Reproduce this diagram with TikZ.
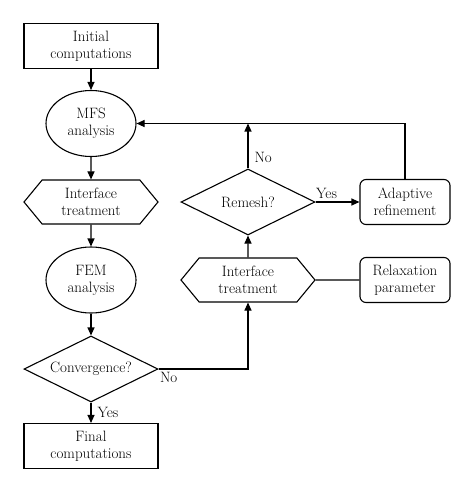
\documentclass[tikz,border=0pt]{standalone}
\usetikzlibrary{arrows.meta, shapes.geometric, shapes.symbols}
\tikzset{
  plainbox/.style={draw, minimum width=134pt, minimum height=45pt},
  roundbox/.style={draw, rounded corners=6pt, minimum width=90pt, minimum height=45pt},
  oval/.style={draw, ellipse, minimum width=90pt, minimum height=66pt},
  hexbox/.style={draw, signal, signal to=west and east, signal pointer angle=101,
    minimum width=134pt, minimum height=44pt},
  decision/.style={draw, diamond, aspect=2.03, minimum width=134pt, minimum height=66pt},
}
\begin{document}
\begin{tikzpicture}[x=1pt, y=-1pt, line width=1.1pt, >={Triangle[length=8pt, width=7pt]},
    every node/.style={font=\fontsize{15}{17}\selectfont, align=center, inner sep=0pt}]
  \useasboundingbox (0,0) rectangle (474,493);

  % left column
  \node[plainbox] (init) at (91,46) {Initial\\computations};
  \node[oval] (mfs) at (91,123.5) {MFS\\analysis};
  \node[hexbox] (itf1) at (91,202) {Interface\\treatment};
  \node[oval] (fem) at (91,280) {FEM\\analysis};
  \node[decision] (conv) at (91,369) {Convergence?};
  \node[plainbox] (final) at (91,446) {Final\\computations};

  % right column
  \node[decision] (remesh) at (248,202) {Remesh?};
  \node[hexbox] (itf2) at (248,280) {Interface\\treatment};
  \node[roundbox] (adapt) at (405,202) {Adaptive\\refinement};
  \node[roundbox] (relax) at (405,280) {Relaxation\\parameter};
  \coordinate (corner) at (adapt.north |- mfs.east);

  \draw[->] (init) -- (mfs);
  \draw[->] (mfs) -- (itf1);
  \draw[->] (itf1) -- (fem);
  \draw[->] (fem) -- (conv);
  \draw[->] (conv) -- node[right, xshift=6pt] {Yes} (final);
  \draw[->] (conv.east) node[below right, xshift=1pt, yshift=-3pt] {No} -| (itf2.south);
  \draw[->] (itf2) -- (remesh);
  \draw[->] (remesh) -- node[pos=0.25, above, yshift=3pt] {Yes} (adapt);
  \draw[->] (remesh.north) -- node[pos=0.25, right, xshift=6pt] {No} (remesh.north |- corner);
  \draw[->] (adapt.north) -- (corner) -- (mfs.east);
  \draw (relax) -- (itf2);
\end{tikzpicture}
\end{document}
